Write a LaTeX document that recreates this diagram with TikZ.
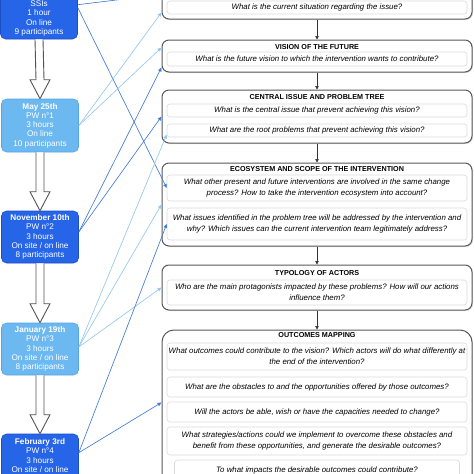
\documentclass[tikz,border=0pt]{standalone}
\usepackage{fontspec}
\setmainfont{Liberation Sans}
\usetikzlibrary{calc,arrows.meta,shadows}
\definecolor{dkb}{RGB}{38,100,232}
\definecolor{dkbd}{RGB}{28,78,200}
\definecolor{ltb}{RGB}{108,184,240}
\definecolor{ltbd}{RGB}{88,164,224}
\definecolor{dkline}{RGB}{66,124,212}
\definecolor{ltline}{RGB}{150,200,236}
\begin{document}
\begin{tikzpicture}[x=1pt,y=-1pt,
  lbox/.style={rounded corners=5pt, minimum width=77pt, inner sep=0pt, align=center, text=white, font=\fontsize{8.2}{9.2}\selectfont, line width=0.6pt},
  dk/.style={lbox, fill=dkb, draw=dkbd},
  lt/.style={lbox, fill=ltb, draw=ltbd},
  ltxt/.style={inner sep=0pt, align=center, text=white, font=\fontsize{8.2}{9.2}\selectfont},
  obox/.style={draw=gray!70!black, line width=1pt, rounded corners=7pt, minimum width=310pt, inner sep=0pt, fill=white, drop shadow={opacity=0.25, shadow xshift=1pt, shadow yshift=-1pt}},
  qbox/.style={draw=black!14, line width=0.6pt, rounded corners=3pt, minimum width=300pt, inner sep=0pt, fill=white, align=center, font=\fontsize{7.85}{11}\selectfont\itshape},
  ttl/.style={font=\fontsize{7.2}{8}\selectfont\bfseries, inner sep=0pt},
  blk/.style={draw=gray!65!black, line width=0.9pt, fill=white},
  flow/.style={draw=black!80, line width=0.7pt, -{Triangle[length=3.5pt,width=3.5pt]}},
  dcon/.style={draw=dkline, line width=0.65pt, -{Triangle[length=4pt,width=3.5pt]}},
  lcon/.style={draw=ltline, line width=0.65pt, -{Triangle[length=4pt,width=3.5pt]}},
]
\clip (0,0) rectangle (474,474);
\fill[white] (0,0) rectangle (474,474);

% ---------- left column ----------
\node[dk, minimum height=59pt] (ssi) at (39,9.5) {};
\node[ltxt] (ssitxt) at (39,18.5) {SSIs\\1 hour\\On line\\9 participants};
\node[lt, minimum height=53pt] (may) at (40,125.5) {\textbf{May 25th}\\PW n°1\\3 hours\\On line\\10 participants};
\node[dk, minimum height=52pt] (nov) at (40,237) {\textbf{November 10th}\\PW n°2\\3 hours\\On site / on line\\8 participants};
\node[lt, minimum height=52pt] (jan) at (40,349) {\textbf{January 19th}\\PW n°3\\3 hours\\On site / on line\\8 participants};
\node[dk, minimum height=56pt] (feb) at (40,462) {};
\node[ltxt] (febtxt) at (40,455.5) {\textbf{February 3rd}\\PW n°4\\3 hours\\On site / on line};

% block arrows
\foreach \a/\b in {ssi/may,may/nov,nov/jan,jan/feb}{
  \draw[blk] ($(\a.south)+(-4,0)$) -- ($(\b.north)+(-4,-19)$) -- ($(\b.north)+(-10,-19)$) -- (\b.north)
     -- ($(\b.north)+(10,-19)$) -- ($(\b.north)+(4,-19)$) -- ($(\a.south)+(4,0)$);
}

% ---------- right column ----------
\node[obox, minimum height=49pt] (cur) at (317,-5.5) {};
\node[qbox, minimum height=13pt] (curQ) at (317,7.5) {What is the current situation regarding the issue?};

\node[obox, minimum height=32pt] (vis) at (317,56) {};
\node[ttl] (visT) at (317,47) {VISION OF THE FUTURE};
\node[qbox, minimum height=14pt] (visQ) at (317,59) {What is the future vision to which the intervention wants to contribute?};

\node[obox, minimum height=53pt] (cen) at (317,116.5) {};
\node[ttl] (cenT) at (317,97) {CENTRAL ISSUE AND PROBLEM TREE};
\node[qbox, minimum height=13pt] (cenQ1) at (317,110.5) {What is the central issue that prevent achieving this vision?};
\node[qbox, minimum height=13pt] (cenQ2) at (317,130.5) {What are the root problems that prevent achieving this vision?};

\node[obox, minimum height=83pt] (eco) at (317,204.5) {};
\node[ttl] (ecoT) at (317,169) {ECOSYSTEM AND SCOPE OF THE INTERVENTION};
\node[qbox, minimum height=26pt] (ecoQ1) at (317,188) {What other present and future interventions are involved in the same change\\process? How to take the intervention ecosystem into account?};
\node[qbox, minimum height=32pt] (ecoQ2) at (317,224) {What issues identified in the problem tree will be addressed by the intervention and\\why? Which issues can the current intervention team legitimately address?};

\node[obox, minimum height=45pt] (typ) at (317,287.5) {};
\node[ttl] (typT) at (317,273) {TYPOLOGY OF ACTORS};
\node[qbox, minimum height=25pt] (typQ) at (317,292.5) {Who are the main protagonists impacted by these problems? How will our actions\\influence them?};

\node[obox, minimum height=170pt, rounded corners=12pt] (out) at (317,415) {};
\node[ttl] (outT) at (317,335.5) {OUTCOMES MAPPING};
\node[qbox, minimum height=27pt] (outQ1) at (317,356.5) {What outcomes could contribute to the vision? Which actors will do what differently at\\the end of the intervention?};
\node[qbox, minimum height=20pt] (outQ2) at (317,387) {What are the obstacles to and the opportunities offered by those outcomes?};
\node[qbox, minimum height=20pt] (outQ3) at (317,412) {Will the actors be able, wish or have the capacities needed to change?};
\node[qbox, minimum height=28pt] (outQ4) at (317,441) {What strategies/actions could we implement to overcome these obstacles and\\benefit from these opportunities, and generate the desirable outcomes?};
\node[qbox, minimum height=20pt, minimum width=285pt] (outQ5) at (317,470) {To what impacts the desirable outcomes could contribute?};

% vertical flow arrows
\draw[flow] (cur.south) -- (vis.north);
\draw[flow] (vis.south) -- (cen.north);
\draw[flow] (cen.south) -- (eco.north);
\draw[flow] (eco.south) -- (typ.north);
\draw[flow] (typ.south) -- (out.north);

% ---------- connectors ----------
% SSIs
\draw[dcon] ($(ssi.north east)+(0,25)$) -- (cur.west);
\draw[dcon] ($(ssi.north east)+(0,28)$) -- (ecoQ1.west);
% May 25th
\draw[lcon] (may.east) -- ($(cur.south west)+(0,-7)$);
\draw[lcon] (may.east) -- ($(vis.north west)+(0,8)$);
% November 10th
\draw[dcon] ($(nov.east)+(0,-5)$) -- ($(vis.south west)+(0,-5)$);
\draw[dcon] ($(nov.east)+(0,-5)$) -- (cen.west);
% January 19th
\draw[lcon] ($(jan.east)+(0,-2)$) -- ($(cenQ2.west)+(0,4)$);
\draw[lcon] ($(jan.east)+(0,-2)$) -- (eco.west);
\draw[lcon] ($(jan.east)+(0,-2)$) -- (typ.west);
% February 3rd
\draw[dcon] ($(feb.north east)+(0,19)$) -- (ecoQ2.west);
\draw[dcon] ($(feb.north east)+(0,19)$) -- ($(out.north west)+(0,73)$);
\end{tikzpicture}
\end{document}
